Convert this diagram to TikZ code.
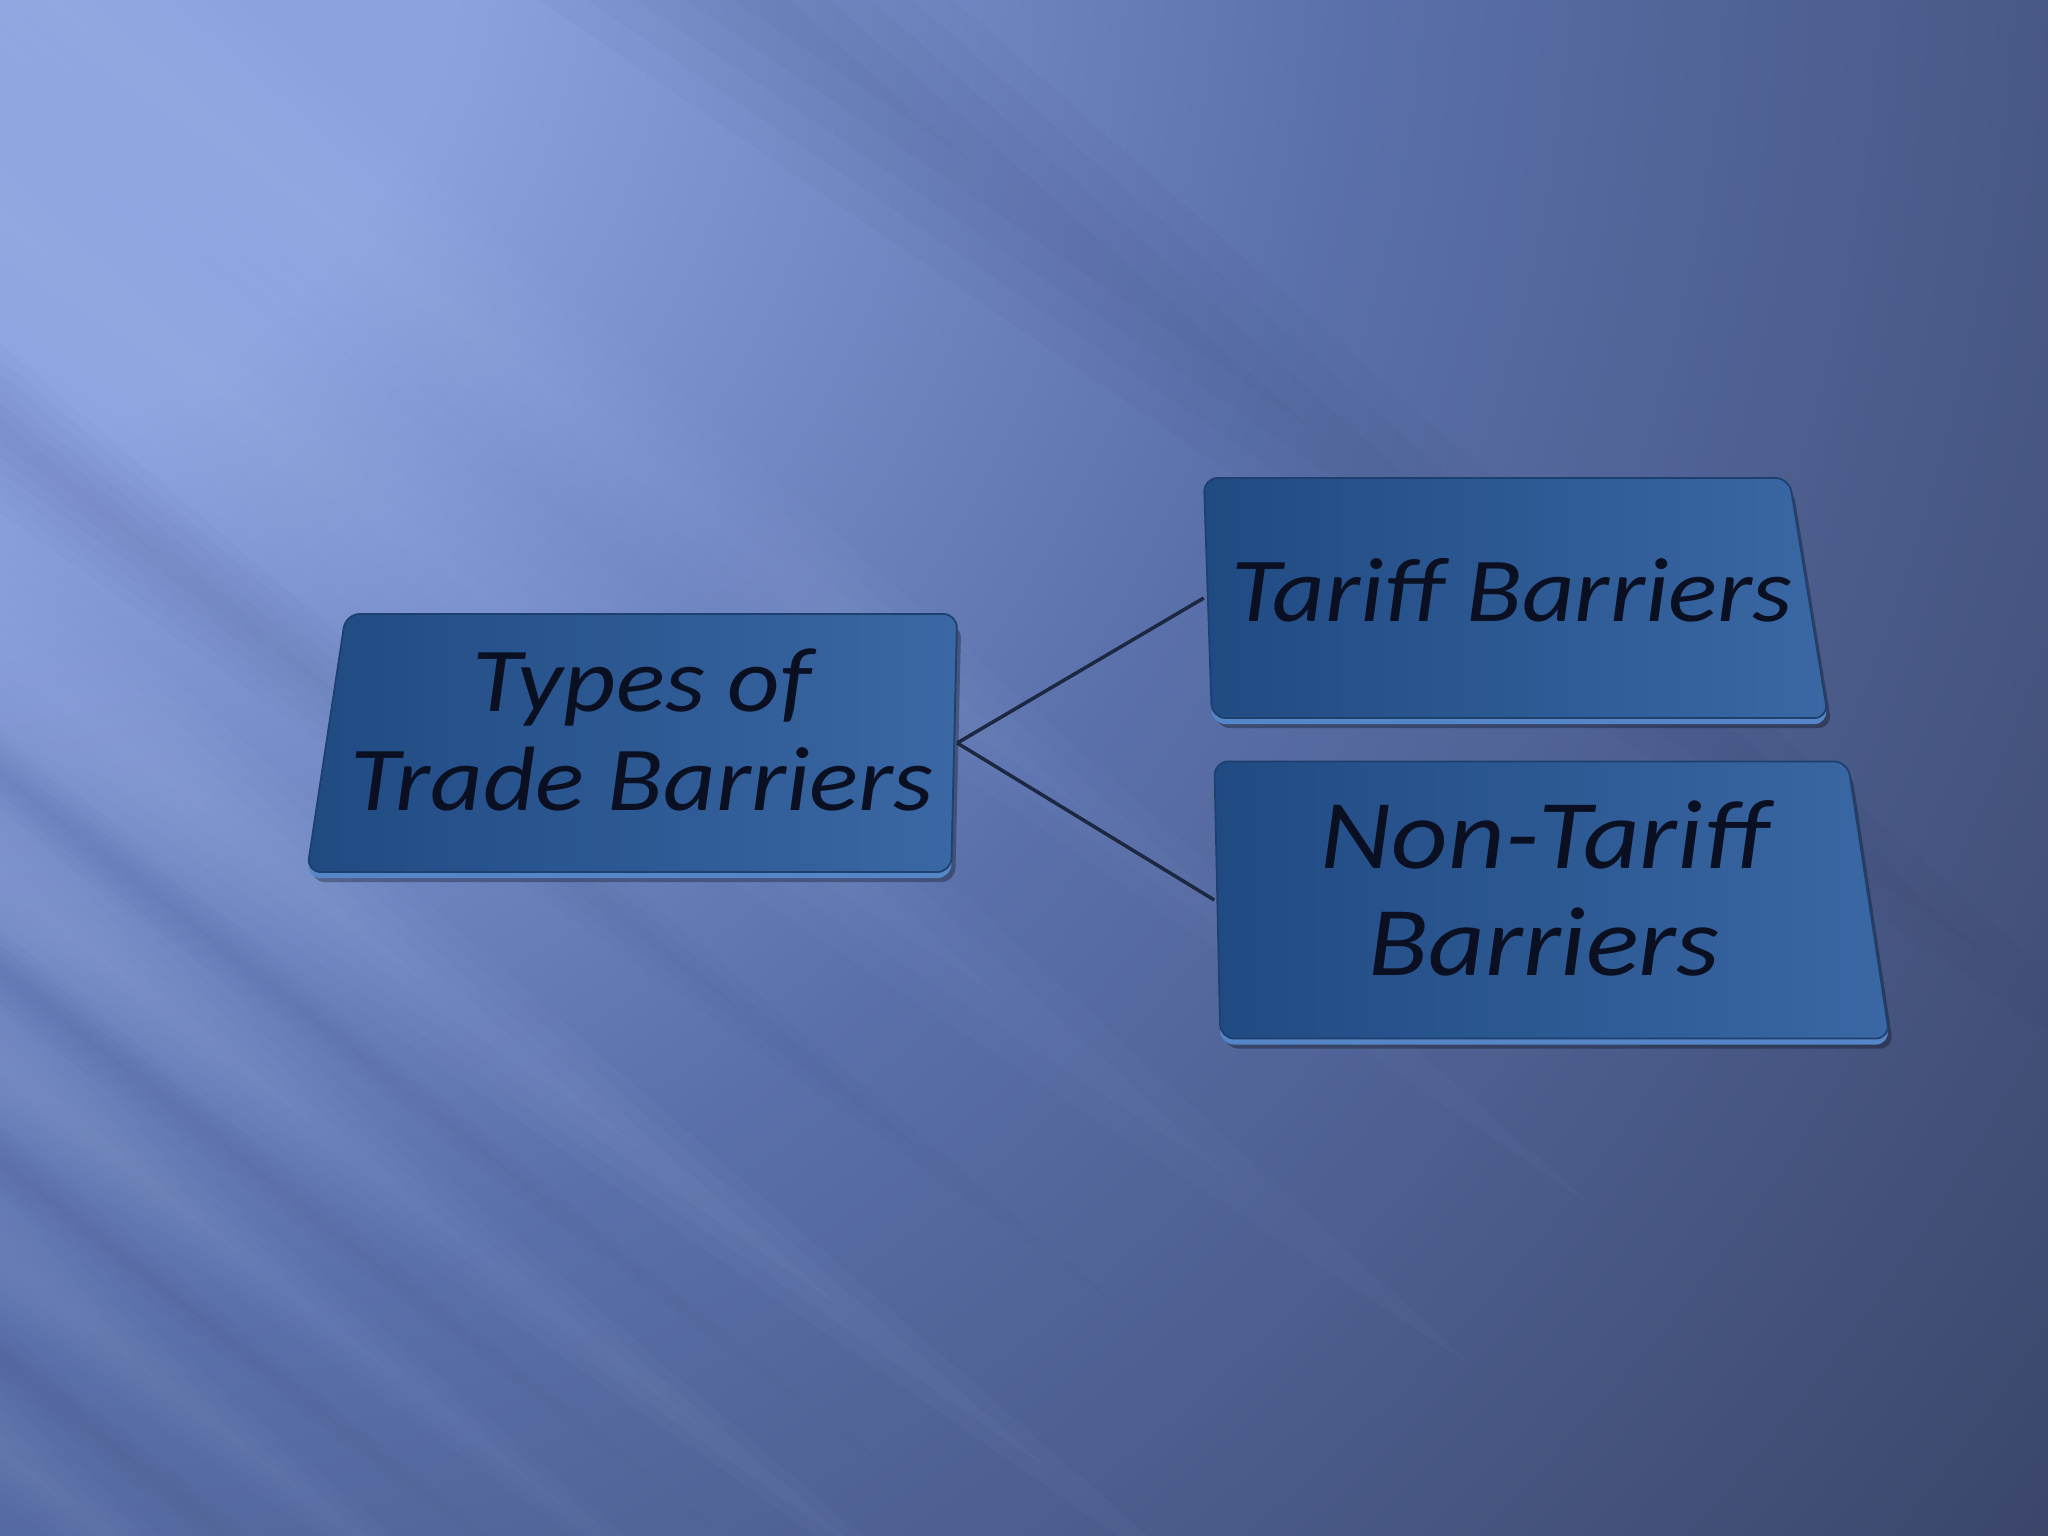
\documentclass[tikz,border=0pt]{standalone}
\usepackage{fontspec}
\newfontfamily\boxfont[FakeStretch=1.12]{Carlito}
\usetikzlibrary{calc}
\definecolor{bgA}{RGB}{138,162,224}
\definecolor{bgB}{RGB}{90,112,170}
\definecolor{bgC}{RGB}{56,66,100}
\definecolor{rayc}{RGB}{185,205,250}
\definecolor{shadec}{RGB}{34,42,78}
\definecolor{faceL}{RGB}{32,74,130}
\definecolor{faceR}{RGB}{58,104,164}
\definecolor{rim}{RGB}{84,134,200}
\definecolor{edge}{RGB}{30,64,110}
\definecolor{txt}{RGB}{10,16,34}
\definecolor{link}{RGB}{28,40,66}
\pgfdeclareradialshading{bgrad}{\pgfpoint{0bp}{0bp}}{color(0bp)=(bgA); color(5bp)=(bgA); color(13bp)=(bgB); color(25bp)=(bgC); color(50bp)=(bgC)}
\pgfdeclarelayer{back}
\pgfdeclarelayer{boxes}
\pgfsetlayers{back,boxes,main}
\newcommand\ray[5]{%
  \pgfmathsetmacro\rayop{#4/8}%
  \pgfmathsetmacro\raystart{0.78*#1-500}%
  \pgfmathsetmacro\raystep{(#3-\raystart)/8}%
  \foreach \k in {1,...,8}{%
    \pgfmathsetmacro\tipx{\raystart+\raystep*\k}%
    \fill[#5, opacity=\rayop] (\raystart, {#1-#2*\k/8}) -- (\tipx, #1) -- (\raystart, {#1+#2*\k/8}) -- cycle;
  }%
}
\newcommand\boxshape[5]{($(#1.north west)+(#2,0)$) -- ($(#1.north east)+(#3,0)$) -- ($(#1.south east)+(#4,0)$) -- ($(#1.south west)+(#5,0)$) -- cycle}
\tikzset{
  boxnode/.style={inner sep=0pt, outer sep=0pt},
  boxtext/.style={inner sep=0pt, align=center, text=txt, font=\boxfont\itshape\fontsize{26}{28}\selectfont},
  bigtext/.style={font=\boxfont\itshape\fontsize{28}{30.5}\selectfont},
  shadowfill/.style={fill=black, opacity=0.3, rounded corners=4pt, transform canvas={shift={(4,10)}}},
  rimfill/.style={fill=rim, rounded corners=4pt, transform canvas={shift={(0,6)}}},
  facefill/.style={left color=faceL, right color=faceR, draw=edge, line width=0.5pt, rounded corners=4pt},
  linkline/.style={draw=link, line width=1pt},
}
\begin{document}
\begin{tikzpicture}[x=0.01cm, y=-0.01cm]
\useasboundingbox (0,0) rectangle (2048,1536);
\begin{pgfonlayer}{back}
  \begin{scope}
    \clip (0,0) rectangle (2048,1536);
    \fill[bgC] (0,0) rectangle (2048,1536);
    \shade[shading=bgrad] (-100,-100) circle (2800);
    \begin{scope}[rotate=-38]
      \ray{-470}{220}{2600}{0.22}{shadec}
      \ray{-30}{160}{2000}{0.22}{rayc}
      \ray{170}{200}{2000}{0.22}{rayc}
      \ray{340}{90}{1700}{0.16}{shadec}
      \ray{512}{120}{2000}{0.28}{rayc}
      \ray{610}{50}{1600}{0.12}{shadec}
      \ray{693}{90}{1900}{0.24}{rayc}
      \ray{765}{50}{1500}{0.14}{shadec}
      \ray{840}{70}{1800}{0.22}{rayc}
      \ray{915}{45}{1500}{0.12}{shadec}
      \ray{990}{70}{1700}{0.20}{rayc}
      \ray{1070}{45}{1500}{0.12}{shadec}
      \ray{1143}{70}{1600}{0.18}{rayc}
      \ray{1300}{60}{1500}{0.15}{rayc}
    \end{scope}
  \end{scope}
\end{pgfonlayer}

\node[boxnode, minimum width=6.5cm, minimum height=2.58cm] (typesbox) at (632,743) {};
\node[boxnode, minimum width=6.24cm, minimum height=2.40cm] (tariffbox) at (1516,598) {};
\node[boxnode, minimum width=6.75cm, minimum height=2.77cm] (nontariffbox) at (1552,900) {};

\begin{pgfonlayer}{boxes}
  \fill[shadowfill] \boxshape{typesbox}{39}{0}{-6}{0};
  \fill[rimfill] \boxshape{typesbox}{39}{0}{-6}{0};
  \shade[facefill] \boxshape{typesbox}{39}{0}{-6}{0};
  \fill[shadowfill] \boxshape{tariffbox}{0}{-39}{0}{8};
  \fill[rimfill] \boxshape{tariffbox}{0}{-39}{0}{8};
  \shade[facefill] \boxshape{tariffbox}{0}{-39}{0}{8};
  \fill[shadowfill] \boxshape{nontariffbox}{0}{-42}{0}{6};
  \fill[rimfill] \boxshape{nontariffbox}{0}{-42}{0}{6};
  \shade[facefill] \boxshape{nontariffbox}{0}{-42}{0}{6};
\end{pgfonlayer}

\node[boxtext, xshift=0.1cm, yshift=0.13cm] (typestext) at (typesbox.center) {Types of\\Trade Barriers};
\node[boxtext, xshift=-0.04cm, yshift=0.08cm] (tarifftext) at (tariffbox.center) {Tariff Barriers};
\node[boxtext, bigtext, xshift=-0.08cm, yshift=0.12cm] (nontarifftext) at (nontariffbox.center) {Non-Tariff\\Barriers};

\draw[linkline] (typesbox.east) -- (tariffbox.west);
\draw[linkline] (typesbox.east) -- (nontariffbox.west);
\end{tikzpicture}
\end{document}
